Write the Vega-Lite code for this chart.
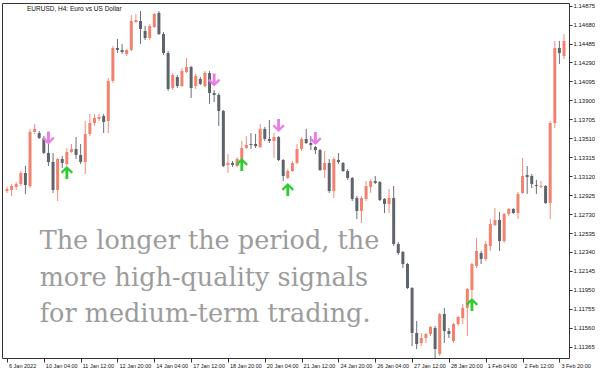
{
"$schema": "https://vega.github.io/schema/vega-lite/v6.json",
"width": 567, "height": 355,
"padding": {"left": 2, "top": 2, "right": 0, "bottom": 0},
"background": "white",
"config": {"view": {"stroke": "#333333", "strokeWidth": 1}, "axis": {"labelOverlap": false, "labelFlush": false, "labelBound": false}},
"title": {"text": "EURUSD, H4:  Euro vs US Dollar", "anchor": "start", "frame": "group", "offset": -10, "dx": 25, "fontSize": 6.5, "font": "Liberation Sans", "fontWeight": "normal", "color": "#111111"},
"datasets": {
"candles": [
{"i":1,"o":1.12967,"c":1.12988,"h":1.13009,"l":1.12947},
{"i":2,"o":1.12978,"c":1.13019,"h":1.13039,"l":1.12916},
{"i":3,"o":1.13009,"c":1.13039,"h":1.13060,"l":1.12978},
{"i":4,"o":1.13039,"c":1.13153,"h":1.13173,"l":1.13019},
{"i":5,"o":1.13153,"c":1.13029,"h":1.13225,"l":1.12937},
{"i":6,"o":1.13019,"c":1.13575,"h":1.13606,"l":1.12998},
{"i":7,"o":1.13575,"c":1.13606,"h":1.13657,"l":1.13554},
{"i":8,"o":1.13564,"c":1.13513,"h":1.13585,"l":1.13503},
{"i":9,"o":1.13513,"c":1.13359,"h":1.13533,"l":1.13348},
{"i":10,"o":1.13359,"c":1.13266,"h":1.13451,"l":1.13225},
{"i":11,"o":1.13266,"c":1.12978,"h":1.13359,"l":1.12947},
{"i":12,"o":1.12978,"c":1.13297,"h":1.13307,"l":1.12864},
{"i":13,"o":1.13297,"c":1.13256,"h":1.13328,"l":1.13204},
{"i":14,"o":1.13245,"c":1.13369,"h":1.13410,"l":1.13225},
{"i":15,"o":1.13369,"c":1.13400,"h":1.13451,"l":1.13359},
{"i":16,"o":1.13400,"c":1.13338,"h":1.13523,"l":1.13297},
{"i":17,"o":1.13338,"c":1.13266,"h":1.13451,"l":1.13245},
{"i":18,"o":1.13266,"c":1.13554,"h":1.13688,"l":1.13142},
{"i":19,"o":1.13554,"c":1.13667,"h":1.13760,"l":1.13533},
{"i":20,"o":1.13667,"c":1.13719,"h":1.13760,"l":1.13636},
{"i":21,"o":1.13708,"c":1.13729,"h":1.13760,"l":1.13688},
{"i":22,"o":1.13739,"c":1.13678,"h":1.13760,"l":1.13564},
{"i":23,"o":1.13688,"c":1.14100,"h":1.14130,"l":1.13564},
{"i":24,"o":1.14100,"c":1.14439,"h":1.14460,"l":1.14079},
{"i":25,"o":1.14439,"c":1.14419,"h":1.14532,"l":1.14388},
{"i":26,"o":1.14419,"c":1.14398,"h":1.14480,"l":1.14378},
{"i":27,"o":1.14378,"c":1.14419,"h":1.14429,"l":1.14357},
{"i":28,"o":1.14419,"c":1.14717,"h":1.14779,"l":1.14408},
{"i":29,"o":1.14707,"c":1.14727,"h":1.14789,"l":1.14697},
{"i":30,"o":1.14717,"c":1.14635,"h":1.14820,"l":1.14480},
{"i":31,"o":1.14614,"c":1.14542,"h":1.14666,"l":1.14522},
{"i":32,"o":1.14542,"c":1.14666,"h":1.14686,"l":1.14522},
{"i":33,"o":1.14655,"c":1.14789,"h":1.14800,"l":1.14645},
{"i":34,"o":1.14800,"c":1.14583,"h":1.14820,"l":1.14573},
{"i":35,"o":1.14583,"c":1.14388,"h":1.14604,"l":1.14367},
{"i":36,"o":1.14388,"c":1.14017,"h":1.14408,"l":1.13997},
{"i":37,"o":1.14028,"c":1.14161,"h":1.14182,"l":1.14007},
{"i":38,"o":1.14141,"c":1.14048,"h":1.14161,"l":1.14028},
{"i":39,"o":1.14048,"c":1.14203,"h":1.14233,"l":1.14038},
{"i":40,"o":1.14192,"c":1.14244,"h":1.14336,"l":1.14182},
{"i":41,"o":1.14244,"c":1.14028,"h":1.14254,"l":1.13925},
{"i":42,"o":1.14048,"c":1.14151,"h":1.14172,"l":1.14017},
{"i":43,"o":1.14120,"c":1.14069,"h":1.14141,"l":1.14058},
{"i":44,"o":1.14048,"c":1.14182,"h":1.14203,"l":1.14038},
{"i":45,"o":1.14182,"c":1.13976,"h":1.14203,"l":1.13863},
{"i":46,"o":1.13976,"c":1.13956,"h":1.14007,"l":1.13883},
{"i":47,"o":1.13956,"c":1.13791,"h":1.13976,"l":1.13636},
{"i":48,"o":1.13791,"c":1.13225,"h":1.13801,"l":1.13214},
{"i":49,"o":1.13235,"c":1.13256,"h":1.13348,"l":1.13153},
{"i":50,"o":1.13256,"c":1.13235,"h":1.13276,"l":1.13214},
{"i":51,"o":1.13225,"c":1.13297,"h":1.13317,"l":1.13214},
{"i":52,"o":1.13297,"c":1.13410,"h":1.13482,"l":1.13276},
{"i":53,"o":1.13410,"c":1.13441,"h":1.13533,"l":1.13400},
{"i":54,"o":1.13451,"c":1.13441,"h":1.13564,"l":1.13400},
{"i":55,"o":1.13451,"c":1.13430,"h":1.13554,"l":1.13410},
{"i":56,"o":1.13420,"c":1.13606,"h":1.13657,"l":1.13410},
{"i":57,"o":1.13606,"c":1.13503,"h":1.13626,"l":1.13482},
{"i":58,"o":1.13503,"c":1.13482,"h":1.13698,"l":1.13461},
{"i":59,"o":1.13482,"c":1.13523,"h":1.13564,"l":1.13307},
{"i":60,"o":1.13523,"c":1.13286,"h":1.13533,"l":1.13276},
{"i":61,"o":1.13286,"c":1.13122,"h":1.13297,"l":1.13070},
{"i":62,"o":1.13101,"c":1.13173,"h":1.13194,"l":1.13091},
{"i":63,"o":1.13173,"c":1.13256,"h":1.13276,"l":1.13163},
{"i":64,"o":1.13256,"c":1.13400,"h":1.13451,"l":1.13245},
{"i":65,"o":1.13400,"c":1.13503,"h":1.13523,"l":1.13379},
{"i":66,"o":1.13503,"c":1.13461,"h":1.13606,"l":1.13451},
{"i":67,"o":1.13461,"c":1.13441,"h":1.13533,"l":1.13389},
{"i":68,"o":1.13420,"c":1.13389,"h":1.13430,"l":1.13348},
{"i":69,"o":1.13389,"c":1.13183,"h":1.13400,"l":1.13173},
{"i":70,"o":1.13183,"c":1.13256,"h":1.13379,"l":1.13101},
{"i":71,"o":1.13256,"c":1.12967,"h":1.13297,"l":1.12947},
{"i":72,"o":1.12967,"c":1.13297,"h":1.13317,"l":1.12895},
{"i":73,"o":1.13286,"c":1.13266,"h":1.13359,"l":1.13245},
{"i":74,"o":1.13256,"c":1.13173,"h":1.13266,"l":1.13163},
{"i":75,"o":1.13173,"c":1.13101,"h":1.13194,"l":1.13081},
{"i":76,"o":1.13101,"c":1.12885,"h":1.13111,"l":1.12864},
{"i":77,"o":1.12895,"c":1.12762,"h":1.12916,"l":1.12679},
{"i":78,"o":1.12762,"c":1.12895,"h":1.12916,"l":1.12638},
{"i":79,"o":1.12885,"c":1.13019,"h":1.13070,"l":1.12864},
{"i":80,"o":1.13009,"c":1.13070,"h":1.13091,"l":1.12947},
{"i":81,"o":1.13070,"c":1.13050,"h":1.13122,"l":1.13039},
{"i":82,"o":1.13060,"c":1.12875,"h":1.13070,"l":1.12864},
{"i":83,"o":1.12885,"c":1.12834,"h":1.12895,"l":1.12741},
{"i":84,"o":1.12834,"c":1.12895,"h":1.12988,"l":1.12741},
{"i":85,"o":1.12895,"c":1.12422,"h":1.13019,"l":1.12401},
{"i":86,"o":1.12422,"c":1.12329,"h":1.12442,"l":1.12309},
{"i":87,"o":1.12340,"c":1.12216,"h":1.12350,"l":1.12175},
{"i":88,"o":1.12216,"c":1.11969,"h":1.12226,"l":1.11959},
{"i":89,"o":1.11969,"c":1.11506,"h":1.11979,"l":1.11372},
{"i":90,"o":1.11506,"c":1.11393,"h":1.11629,"l":1.11341},
{"i":91,"o":1.11403,"c":1.11454,"h":1.11506,"l":1.11372},
{"i":92,"o":1.11454,"c":1.11495,"h":1.11506,"l":1.11403},
{"i":93,"o":1.11495,"c":1.11568,"h":1.11578,"l":1.11475},
{"i":94,"o":1.11557,"c":1.11341,"h":1.11578,"l":1.11238},
{"i":95,"o":1.11290,"c":1.11701,"h":1.11712,"l":1.11269},
{"i":96,"o":1.11701,"c":1.11526,"h":1.11763,"l":1.11403},
{"i":97,"o":1.11526,"c":1.11495,"h":1.11557,"l":1.11454},
{"i":98,"o":1.11423,"c":1.11598,"h":1.11609,"l":1.11403},
{"i":99,"o":1.11598,"c":1.11670,"h":1.11681,"l":1.11578},
{"i":100,"o":1.11660,"c":1.11763,"h":1.11804,"l":1.11598},
{"i":101,"o":1.11763,"c":1.11959,"h":1.11969,"l":1.11475},
{"i":102,"o":1.11948,"c":1.12216,"h":1.12226,"l":1.11866},
{"i":103,"o":1.12195,"c":1.12350,"h":1.12484,"l":1.12175},
{"i":104,"o":1.12329,"c":1.12267,"h":1.12350,"l":1.12216},
{"i":105,"o":1.12267,"c":1.12422,"h":1.12453,"l":1.12247},
{"i":106,"o":1.12401,"c":1.12628,"h":1.12679,"l":1.12350},
{"i":107,"o":1.12617,"c":1.12669,"h":1.12792,"l":1.12607},
{"i":108,"o":1.12669,"c":1.12453,"h":1.12751,"l":1.12350},
{"i":109,"o":1.12453,"c":1.12731,"h":1.12741,"l":1.12432},
{"i":110,"o":1.12731,"c":1.12782,"h":1.12792,"l":1.12710},
{"i":111,"o":1.12782,"c":1.12741,"h":1.12792,"l":1.12731},
{"i":112,"o":1.12741,"c":1.12937,"h":1.12957,"l":1.12679},
{"i":113,"o":1.12947,"c":1.13122,"h":1.13307,"l":1.12937},
{"i":114,"o":1.13132,"c":1.13111,"h":1.13225,"l":1.12937},
{"i":115,"o":1.13122,"c":1.13039,"h":1.13142,"l":1.12998},
{"i":116,"o":1.13029,"c":1.13019,"h":1.13081,"l":1.12937},
{"i":117,"o":1.13009,"c":1.13019,"h":1.13070,"l":1.12998},
{"i":118,"o":1.13019,"c":1.12844,"h":1.13029,"l":1.12834},
{"i":119,"o":1.12844,"c":1.13667,"h":1.13688,"l":1.12679},
{"i":120,"o":1.13667,"c":1.14439,"h":1.14511,"l":1.13616},
{"i":121,"o":1.14439,"c":1.14388,"h":1.14511,"l":1.14275},
{"i":122,"o":1.14357,"c":1.14511,"h":1.14583,"l":1.14326}
],
"arrows": [
{"i":10,"p":1.13513,"dir":"down"},
{"i":46,"p":1.14110,"dir":"down"},
{"i":60,"p":1.13641,"dir":"down"},
{"i":68,"p":1.13508,"dir":"down"},
{"i":14,"p":1.13158,"dir":"up"},
{"i":52,"p":1.13240,"dir":"up"},
{"i":62,"p":1.12983,"dir":"up"},
{"i":102,"p":1.11799,"dir":"up"}
],
"note": [
{"i":8.1,"p":1.12370,"t":"The longer the period, the"},
{"i":8.1,"p":1.11989,"t":"more high-quality signals"},
{"i":8.1,"p":1.11619,"t":"for medium-term trading."}
]
},
"layer": [
{
"data": {"name": "candles"},
"mark": {"type": "rule", "strokeWidth": 1, "clip": true},
"encoding": {
"x": {"field": "i", "type": "quantitative", "scale": {"domain": [1, 122], "nice": false, "zero": false},
"axis": {"title": null, "orient": "bottom", "grid": false, "domain": false, "tickCount": 100, "values": [1,9,17,25,33,41,49,57,65,73,81,89,97,105,113,121],
"labelExpr": "['6 Jan 2022','10 Jan 04:00','11 Jan 12:00','12 Jan 20:00','14 Jan 04:00','17 Jan 12:00','18 Jan 20:00','20 Jan 04:00','21 Jan 12:00','24 Jan 20:00','26 Jan 04:00','27 Jan 12:00','28 Jan 20:00','1 Feb 04:00','2 Feb 12:00','3 Feb 20:00'][round((datum.value-1)/8)]",
"labelAlign": "left", "labelBaseline": "top", "labelPadding": 1, "labelOffset": 1.5, "tickSize": 4, "tickColor": "#333333",
"labelFont": "Liberation Sans Narrow, Liberation Sans", "labelFontSize": 5.5, "labelColor": "#111111", "labelOverlap": false, "labelFlush": false, "labelBound": false}},
"y": {"field": "l", "type": "quantitative", "scale": {"domain": [1.112484, 1.149024], "nice": false, "zero": false},
"axis": {"title": null, "orient": "right", "grid": false, "domain": false, "tickCount": 100,
"values": [1.11365,1.1156,1.11755,1.1195,1.12145,1.1234,1.12535,1.1273,1.12925,1.1312,1.13315,1.1351,1.13705,1.139,1.14095,1.1429,1.14485,1.1468,1.14875],
"format": ".5f", "tickSize": 3, "tickColor": "#333333", "labelPadding": 1, "labelFont": "Liberation Sans", "labelFontSize": 6, "labelColor": "#111111", "labelOverlap": false, "labelFlush": false, "labelBound": false}},
"y2": {"field": "h"},
"color": {"condition": {"test": "datum.c > datum.o", "value": "#f28d7e"}, "value": "#6a6f77"}
}
},
{
"data": {"name": "candles"},
"mark": {"type": "bar", "width": 3, "clip": true},
"encoding": {
"x": {"field": "i", "type": "quantitative"},
"y": {"field": "o", "type": "quantitative"},
"y2": {"field": "c"},
"color": {"condition": {"test": "datum.c > datum.o", "value": "#f0826f"}, "value": "#5f646c"}
}
},
{
"data": {"name": "arrows"},
"transform": [{"filter": "datum.dir == 'down'"}],
"mark": {"type": "point", "filled": true, "opacity": 1, "size": 169, "color": "#e87ce8",
"shape": "M-0.22,-1L0.22,-1L0.22,0.3L0.7,-0.18L0.95,0.08L0,1L-0.95,0.08L-0.7,-0.18L-0.22,0.3Z"},
"encoding": {
"x": {"field": "i", "type": "quantitative"},
"y": {"field": "p", "type": "quantitative"}
}
},
{
"data": {"name": "arrows"},
"transform": [{"filter": "datum.dir == 'up'"}],
"mark": {"type": "point", "filled": true, "opacity": 1, "size": 169, "color": "#2fcc2f",
"shape": "M-0.22,1L0.22,1L0.22,-0.3L0.7,0.18L0.95,-0.08L0,-1L-0.95,-0.08L-0.7,0.18L-0.22,-0.3Z"},
"encoding": {
"x": {"field": "i", "type": "quantitative"},
"y": {"field": "p", "type": "quantitative"}
}
},
{
"data": {"name": "note"},
"mark": {"type": "text", "align": "left", "baseline": "alphabetic", "font": "DejaVu Serif", "fontSize": 25.5, "color": "#9c9c9c"},
"encoding": {
"x": {"field": "i", "type": "quantitative"},
"y": {"field": "p", "type": "quantitative"},
"text": {"field": "t"}
}
}
]
}
